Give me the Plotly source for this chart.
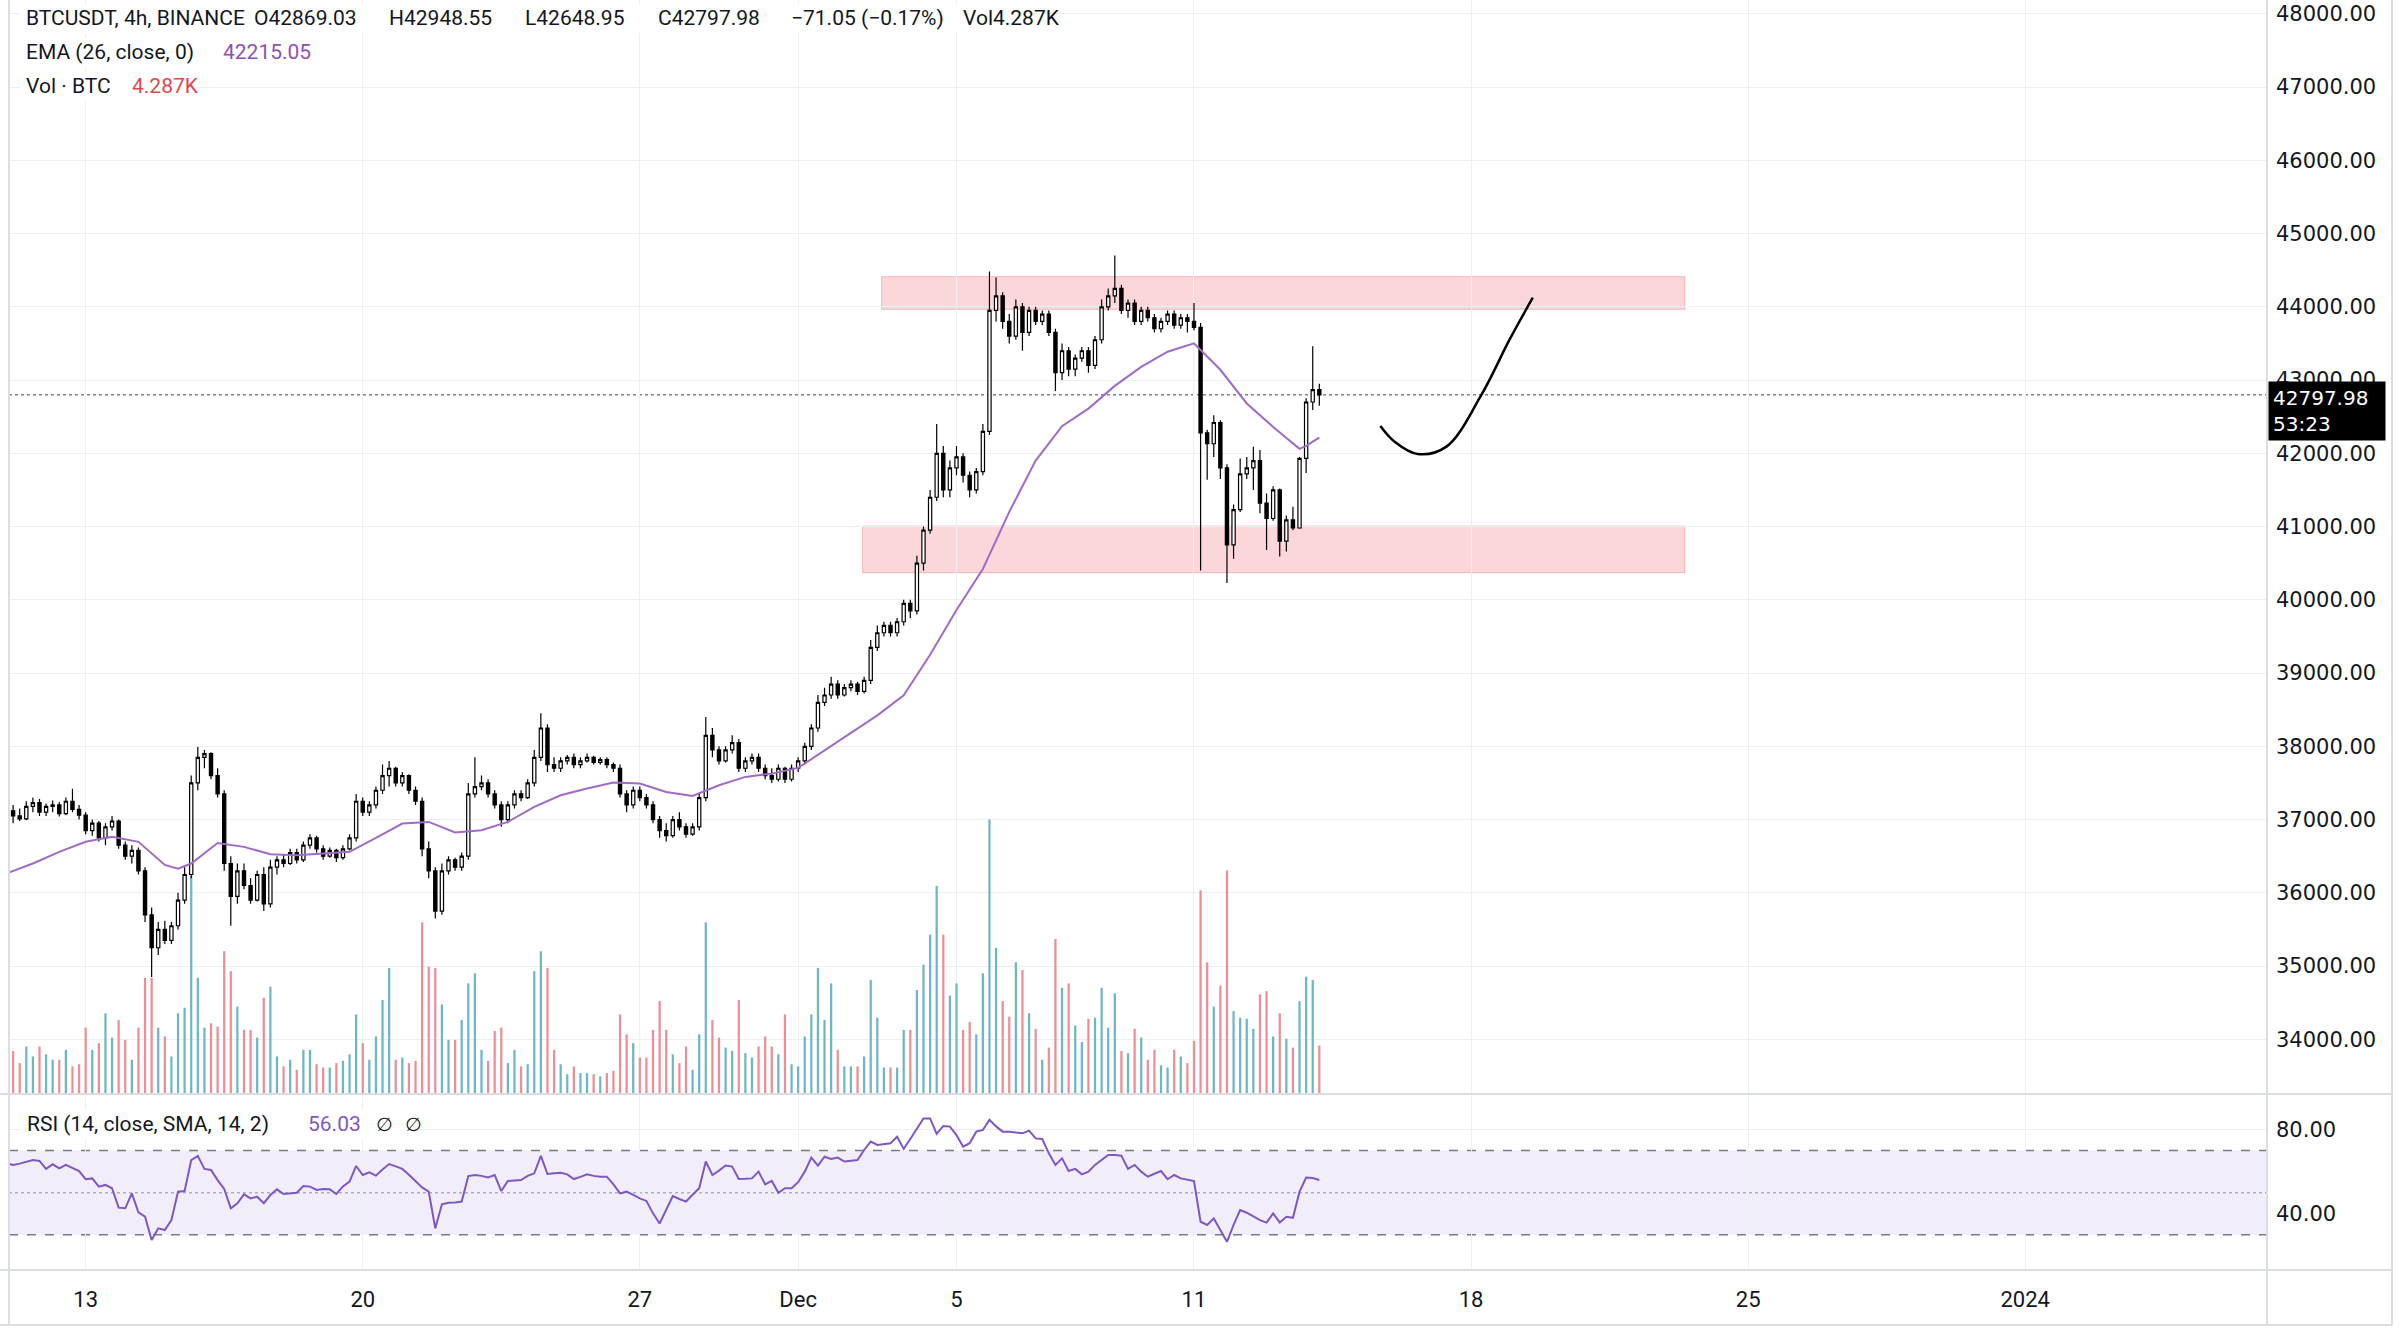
import pandas as pd
import plotly.graph_objects as go

# ---------------- data (BTCUSDT 4h) ----------------
START = "2023-11-11 00:00"
OPEN = [37250,37120,37050,37010,37180,37230,37100,37180,37200,37080,37250,37140,37060,36850,36950,36750,36900,36980,36650,36500,
        36580,36300,35700,35250,35500,35350,35550,35900,36250,37500,37850,37900,37600,37350,36400,35950,36300,36100,35900,36250,
        35850,36350,36450,36400,36550,36450,36650,36750,36600,36500,36580,36480,36600,36750,37250,37100,37200,37400,37600,37700,
        37500,37600,37400,37250,36600,36300,35750,36300,36450,36350,36500,37350,37450,37500,37350,37200,37000,37200,37350,37300,
        37500,37850,38250,37750,37700,37800,37850,37750,37800,37850,37780,37820,37750,37700,37350,37200,37400,37300,37200,37000,
        36850,36780,37000,36900,36800,36900,37300,38150,37950,37800,37950,38050,37700,37800,37850,37700,37600,37550,37700,37550,
        37700,37800,38000,38250,38600,38700,38850,38700,38800,38850,38750,38900,39350,39550,39650,39550,39700,39950,39850,40500,
        40950,41400,42000,41500,41800,41950,41700,41500,41750,42300,43950,44150,43800,43600,44000,43650,43950,43800,43900,43650,
        43100,43400,43150,43300,43400,43200,43550,44000,44150,44250,43950,44050,43800,43950,43850,43700,43800,43900,43750,43850,
        43800,43720,42280,42130,42420,41800,40750,41230,41720,41800,41900,41320,41110,41500,40800,41090,40980,41930,42700,42869.03]
HIGH = [37350,37200,37150,37250,37300,37280,37220,37260,37240,37300,37420,37200,37100,37000,36980,36950,37050,37000,36700,36650,
        36620,36350,35800,35600,35620,35600,36000,36350,37600,37990,37950,37920,37700,37400,36500,36400,36400,36200,36300,36350,
        36450,36500,36520,36600,36600,36700,36800,36780,36650,36620,36600,36650,36800,37350,37300,37250,37450,37750,37800,37720,
        37650,37620,37450,37300,36700,36350,36400,36500,36480,36550,37500,37850,37600,37550,37400,37250,37250,37400,37400,37550,
        37950,38450,38300,37850,37850,37880,37900,37850,37900,37870,37850,37850,37780,37750,37400,37450,37450,37350,37250,37050,
        36950,37050,37100,36950,36950,37350,38400,38250,38000,38000,38150,38100,37850,37900,37900,37750,37700,37750,37720,37750,
        37850,38050,38300,38700,38800,38950,38900,38850,38900,38880,38950,39450,39650,39700,39700,39750,40000,40000,40600,41000,
        41500,42400,42100,41900,42100,42000,41750,41800,42400,44480,44400,44200,43900,44100,44050,44000,44000,43950,43950,43700,
        43500,43450,43350,43450,43450,43600,44100,44250,44700,44300,44100,44100,44000,44000,43900,43850,43950,43950,43900,43900,
        44050,43780,42320,42520,42450,41850,41300,41930,41950,42090,42045,41450,41550,41520,41150,41270,41950,42750,43460,42948.55]
LOW = [37050,36950,36980,36990,37100,37050,37050,37100,37040,37060,37100,37000,36800,36780,36700,36650,36850,36600,36450,36400,
       36250,35600,34850,35150,35300,35300,35500,35850,36200,37400,37700,37550,37300,36300,35550,35850,36050,35850,35880,35750,
       35800,36250,36350,36380,36400,36420,36600,36550,36450,36480,36420,36450,36580,36700,37050,37050,37150,37350,37450,37450,
       37450,37350,37200,36500,36200,35650,35700,36250,36300,36300,36450,37300,37400,37300,37150,36900,36950,37150,37250,37280,
       37450,37800,37650,37650,37650,37750,37700,37700,37780,37750,37750,37700,37650,37300,37100,37150,37250,37150,36950,36750,
       36700,36750,36850,36750,36780,36850,37250,37850,37750,37780,37900,37650,37650,37750,37650,37550,37500,37520,37500,37520,
       37650,37750,37950,38200,38550,38650,38650,38680,38750,38700,38720,38850,39300,39500,39500,39500,39650,39750,39800,40400,
       40900,41350,41400,41400,41700,41600,41400,41450,41700,42250,43800,43700,43500,43550,43400,43600,43750,43750,43600,42850,
       43000,43050,43050,43250,43100,43150,43500,43950,44050,43900,43850,43750,43750,43800,43650,43650,43750,43700,43700,43650,
       43680,40400,41640,41950,41650,40230,40560,41200,41650,41500,41180,40680,41080,40590,40660,40950,40970,41730,42590,42648.95]
CLOSE = [37120,37050,37010,37180,37230,37100,37180,37200,37080,37250,37140,37060,36850,36950,36750,36900,36980,36650,36500,36580,
         36300,35700,35250,35500,35350,35550,35900,36250,37500,37850,37900,37600,37350,36400,35950,36300,36100,35900,36250,35850,
         36350,36450,36400,36550,36450,36650,36750,36600,36500,36580,36480,36600,36750,37250,37100,37200,37400,37600,37700,37500,
         37600,37400,37250,36600,36300,35750,36300,36450,36350,36500,37350,37450,37500,37350,37200,37000,37200,37350,37300,37500,
         37850,38250,37750,37700,37800,37850,37750,37800,37850,37780,37820,37750,37700,37350,37200,37400,37300,37200,37000,36850,
         36780,37000,36900,36800,36900,37300,38150,37950,37800,37950,38050,37700,37800,37850,37700,37600,37550,37700,37550,37700,
         37800,38000,38250,38600,38700,38850,38700,38800,38850,38750,38900,39350,39550,39650,39550,39700,39950,39850,40500,40950,
         41400,42000,41500,41800,41950,41700,41500,41750,42300,43950,44150,43800,43600,44000,43650,43950,43800,43900,43650,43100,
         43400,43150,43300,43400,43200,43550,44000,44150,44250,43950,44050,43800,43950,43850,43700,43800,43900,43750,43850,43800,
         43720,42280,42130,42420,41800,40750,41230,41720,41800,41900,41320,41110,41500,40800,41090,40980,41930,42700,42869.03,42797.98]
VOLUME_K = [5.1,3.8,2.7,4.2,3.3,4.2,3.5,3.0,3.0,3.9,2.4,2.6,5.9,3.9,4.5,7.2,5.0,6.6,4.8,3.0,
            5.9,10.4,10.4,5.9,5.1,3.3,7.2,7.7,19.6,10.4,5.9,6.3,6.0,12.8,11.0,7.8,5.7,5.7,5.0,8.6,
            9.6,3.3,2.4,3.0,2.1,3.9,3.9,2.6,2.3,2.3,2.7,2.9,3.5,7.1,4.5,3.0,5.1,8.4,11.3,3.0,
            3.2,2.7,2.9,15.4,11.4,11.3,8.0,4.8,4.8,6.6,9.9,10.8,3.9,2.9,5.6,5.9,2.7,3.9,2.4,2.6,
            11.0,12.8,11.3,3.9,2.6,1.7,2.4,1.8,1.8,1.7,1.5,1.8,2.0,7.1,5.3,4.5,3.2,3.2,5.7,8.3,
            5.7,3.5,2.7,4.2,2.1,5.3,15.4,6.6,5.0,4.1,3.8,8.4,3.6,3.2,4.2,5.1,4.2,3.5,7.1,2.6,
            2.4,5.1,7.1,11.3,6.6,9.9,3.9,2.4,2.4,2.4,3.3,10.2,6.8,2.3,2.3,2.3,5.7,5.7,9.3,11.6,
            14.3,18.7,14.3,8.8,9.9,5.7,6.4,5.3,10.8,24.7,13.1,8.3,6.9,11.8,11.1,7.2,5.8,3.0,4.1,13.9,
            9.5,9.9,6.1,4.6,6.7,6.8,9.5,5.9,9.0,3.8,3.6,5.8,5.0,3.0,3.9,2.5,2.3,3.9,3.3,2.7,
            4.7,18.3,11.8,7.8,9.7,20.1,7.4,6.8,6.7,5.8,8.9,9.2,5.1,7.2,4.9,4.1,8.3,10.5,10.2,4.287]
RSI = [64.0,63.2,63.8,64.5,65.5,65.1,61.3,63.5,61.6,63.2,61.9,60.3,56.4,56.8,52.9,53.7,52.1,42.9,42.6,49.7,
       40.7,38.6,27.5,33.1,32.3,37.0,50.5,50.8,65.5,67.5,61.3,60.8,56.0,51.8,42.6,45.0,49.2,47.3,48.1,45.0,
       48.9,51.6,49.4,49.8,50.0,53.2,52.9,51.3,51.8,51.6,49.4,53.0,55.3,62.7,58.4,59.7,58.1,61.0,63.6,62.5,
       61.3,58.5,55.3,52.5,50.5,33.1,44.5,45.2,45.4,45.8,57.9,58.4,58.0,57.2,58.4,50.8,55.6,55.8,56.0,58.0,
       59.2,67.5,58.9,59.2,59.5,58.7,56.5,57.5,58.7,58.0,57.6,57.6,54.0,49.7,50.5,49.0,47.3,46.1,40.2,35.4,
       42.0,48.4,47.0,45.8,49.0,52.1,64.8,58.4,60.5,62.9,62.4,56.5,56.6,56.8,60.0,54.0,55.6,50.0,52.1,52.1,
       55.0,60.0,66.7,62.9,67.1,66.0,66.7,64.8,65.2,65.5,70.3,74.3,72.7,73.0,73.5,76.6,70.8,75.5,80.6,85.3,
       85.3,77.9,81.7,81.4,77.4,71.9,73.5,79.0,79.8,84.6,81.5,79.0,79.0,78.5,78.2,79.5,75.8,75.5,68.7,63.2,
       66.3,60.3,61.3,58.7,60.0,63.2,65.5,67.9,67.9,67.6,61.3,63.2,60.0,57.6,59.0,60.3,56.4,58.4,56.8,56.0,
       55.5,36.2,34.7,37.8,32.0,26.7,34.7,41.8,40.5,38.6,37.0,35.8,40.2,35.9,38.6,38.1,50.5,57.2,57.0,56.03]
# EMA(26) read at these candle numbers (1 = first candle)
EMA_IDX = [1,5,9,13,17,21,25,27,29,33,37,41,45,49,53,57,61,65,69,73,77,81,85,89,93,97,101,105,109,113,
           117,121,125,129,133,137,141,145,149,153,157,161,165,169,173,177,181,182,185,189,193,197,198,199,200]
EMA_VAL = [36264,36400,36559,36696,36764,36696,36380,36330,36400,36680,36627,36527,36514,36537,36560,36750,36946,36968,36823,36855,
           36968,37173,37332,37423,37505,37491,37377,37323,37468,37582,37627,37705,37945,38173,38423,38695,39250,39860,40420,41200,
           41900,42370,42610,42920,43180,43387,43500,43410,43140,42680,42360,42060,42100,42160,42215.05]
# drawn supply / demand zones
ZONE_X0 = ["2023-12-03 02:36", "2023-12-02 15:06"]
ZONE_X1 = ["2023-12-23 09:36", "2023-12-23 09:36"]
ZONE_LOW = [43965, 40370]
ZONE_HIGH = [44411, 41007]
# hand-drawn projection curve
CURVE_T = ["2023-12-15 17:00", "2023-12-16 01:40", "2023-12-16 15:35", "2023-12-17 09:05",
           "2023-12-18 06:00", "2023-12-18 23:15", "2023-12-19 13:25"]
CURVE_P = [42373, 42158, 41991, 42091, 42787, 43547, 44124]
# x-axis ticks
TICK_DATES = ["2023-11-13", "2023-11-20", "2023-11-27", "2023-12-01", "2023-12-05",
              "2023-12-11", "2023-12-18", "2023-12-25", "2024-01-01"]
TICK_TEXT = ["13", "20", "27", "Dec", "5", "11", "18", "25", "2024"]

TIMES = pd.date_range(START, periods=len(CLOSE), freq="4h")
LAST = CLOSE[-1]

# ---------------- layout helpers ----------------
W, H = 2400, 1330
ML, MR, MT, MB = 9, 133, 0, 60
PW, PH = W - ML - MR, H - MT - MB


def px_x(p):
    return (p - ML) / PW


def px_y(p):
    return (H - MB - p) / PH


MAIN_BOT = px_y(1093)
RSI_TOP = px_y(1095)
GRID = "#eceff3"
TXT = "#131722"
SEP = "#dadde4"

fig = go.Figure()

up = [c >= o for o, c in zip(OPEN, CLOSE)]
fig.add_trace(go.Bar(
    x=TIMES, y=VOLUME_K, xaxis="x", yaxis="y",
    marker=dict(color=["#6db6c6" if u else "#ee8d93" for u in up], line=dict(width=0)),
    width=0.34 * 4 * 3600 * 1000, hoverinfo="skip"))

fig.add_trace(go.Candlestick(
    x=TIMES, open=OPEN, high=HIGH, low=LOW, close=CLOSE, xaxis="x", yaxis="y3",
    increasing=dict(line=dict(color="#000000", width=1.2), fillcolor="#ffffff"),
    decreasing=dict(line=dict(color="#000000", width=1.2), fillcolor="#000000"),
    whiskerwidth=0, hoverinfo="skip"))

fig.add_trace(go.Scatter(
    x=[TIMES[i - 1] for i in EMA_IDX], y=EMA_VAL, xaxis="x", yaxis="y3", mode="lines",
    line=dict(color="#a06bc6", width=2), hoverinfo="skip"))

fig.add_trace(go.Scatter(
    x=pd.to_datetime(CURVE_T), y=CURVE_P, xaxis="x", yaxis="y3", mode="lines",
    line=dict(color="#000000", width=2.5, shape="spline", smoothing=1.0), hoverinfo="skip"))

fig.add_trace(go.Scatter(
    x=TIMES, y=RSI, xaxis="x", yaxis="y2", mode="lines",
    line=dict(color="#7e57c2", width=2), hoverinfo="skip"))

shapes = []
for x0, x1, lo, hi in zip(ZONE_X0, ZONE_X1, ZONE_LOW, ZONE_HIGH):
    shapes.append(dict(type="rect", xref="x", yref="y3", x0=x0, x1=x1, y0=lo, y1=hi,
                       fillcolor="rgba(242,54,69,0.2)", line=dict(color="rgba(242,54,69,0.3)", width=1),
                       layer="below"))
# last price dotted line
shapes.append(dict(type="line", xref="paper", yref="y3", x0=0, x1=1, y0=LAST, y1=LAST,
                   line=dict(color="#444444", width=1, dash="dot"), layer="below"))
# RSI band and levels
shapes.append(dict(type="rect", xref="paper", yref="y2", x0=0, x1=1, y0=30, y1=70,
                   fillcolor="rgba(126,87,194,0.1)", line=dict(width=0), layer="below"))
for lvl, dash, col in [(70, "dash", "#787b86"), (30, "dash", "#787b86"), (50, "dot", "rgba(120,123,134,0.55)")]:
    shapes.append(dict(type="line", xref="paper", yref="y2", x0=0, x1=1, y0=lvl, y1=lvl,
                       line=dict(color=col, width=1.5, dash=dash), layer="below"))
# frame / separators
XR = px_x(2392)
YB = px_y(1325)
for y in [px_y(1094), 0, YB]:
    shapes.append(dict(type="line", xref="paper", yref="paper", x0=px_x(0), x1=XR, y0=y, y1=y,
                       line=dict(color=SEP, width=2), layer="above"))
for x in [0, 1, XR]:
    shapes.append(dict(type="line", xref="paper", yref="paper", x0=x, x1=x, y0=YB, y1=1,
                       line=dict(color=SEP, width=2), layer="above"))
# white legend backgrounds
for (xa, xb, ya, yb) in [(20, 1026, 4, 33), (20, 318, 38, 67), (20, 196, 72, 101), (20, 420, 1110, 1140)]:
    shapes.append(dict(type="rect", xref="paper", yref="paper", x0=px_x(xa), x1=px_x(xb),
                       y0=px_y(yb), y1=px_y(ya), fillcolor="white", line=dict(width=0), layer="above"))


def ann(text, xp, yp, color=TXT, size=21, family="Roboto"):
    return dict(text=text, x=px_x(xp), y=px_y(yp), xref="paper", yref="paper", xanchor="left",
                yanchor="middle", showarrow=False, font=dict(family=family, size=size, color=color))


annotations = [
    ann("BTCUSDT, 4h, BINANCE", 24, 18),
    ann("O42869.03", 252, 18), ann("H42948.55", 387, 18), ann("L42648.95", 523, 18),
    ann("C42797.98", 656, 18), ann("\u221271.05 (\u22120.17%)", 789, 18),
    ann("Vol4.287K", 961, 18),
    ann("EMA (26, close, 0)", 24, 52), ann("42215.05", 221, 52, color="#9050b8"),
    ann("Vol \u00b7 BTC", 24, 86), ann("4.287K", 130, 86, color="#e0484f"),
    ann("RSI (14, close, SMA, 14, 2)", 25, 1124), ann("56.03", 306, 1124, color="#7e57c2"),
    ann("\u2205", 374, 1124, family="DejaVu Sans", size=19), ann("\u2205", 403, 1124, family="DejaVu Sans", size=19),
    dict(text="%.2f<br>53:23" % LAST, x=1, xref="paper", xanchor="left", xshift=1,
         y=LAST, yref="y3", yanchor="top", yshift=14, align="left", showarrow=False,
         bgcolor="#000000", borderpad=4, width=108,
         font=dict(family="DejaVu Sans", size=20, color="#ffffff")),
]

fig.update_layout(
    width=W, height=H, margin=dict(l=ML, r=MR, t=MT, b=MB, pad=0),
    paper_bgcolor="white", plot_bgcolor="white", showlegend=False, hovermode=False,
    xaxis=dict(type="date", domain=[0, 1], anchor="y2", range=["2023-11-11 01:31", "2024-01-07 02:36"],
               tickvals=pd.to_datetime(TICK_DATES), ticktext=TICK_TEXT, showgrid=True, gridcolor=GRID,
               gridwidth=1, zeroline=False, showline=False, ticks="", ticklabelstandoff=14,
               tickfont=dict(family="Roboto", size=22, color=TXT), rangeslider=dict(visible=False)),
    yaxis=dict(domain=[MAIN_BOT, 1], range=[0, 98.7], visible=False, showgrid=False, zeroline=False),
    yaxis3=dict(overlaying="y", side="right", anchor="x", range=[33267, 48188], tick0=0, dtick=1000,
                tickformat=".2f", showgrid=True, gridcolor=GRID, zeroline=False, showline=False, ticks="",
                ticklabelstandoff=8, tickfont=dict(family="DejaVu Sans", size=21, color=TXT)),
    yaxis2=dict(domain=[0, RSI_TOP], anchor="x", side="right", range=[13.3, 96.4], tickvals=[40, 80],
                tickformat=".2f", showgrid=True, gridcolor=GRID, zeroline=False, showline=False, ticks="",
                ticklabelstandoff=8, tickfont=dict(family="DejaVu Sans", size=21, color=TXT)),
    shapes=shapes, annotations=annotations,
)

fig.write_html("out.html", config={"displayModeBar": False})
